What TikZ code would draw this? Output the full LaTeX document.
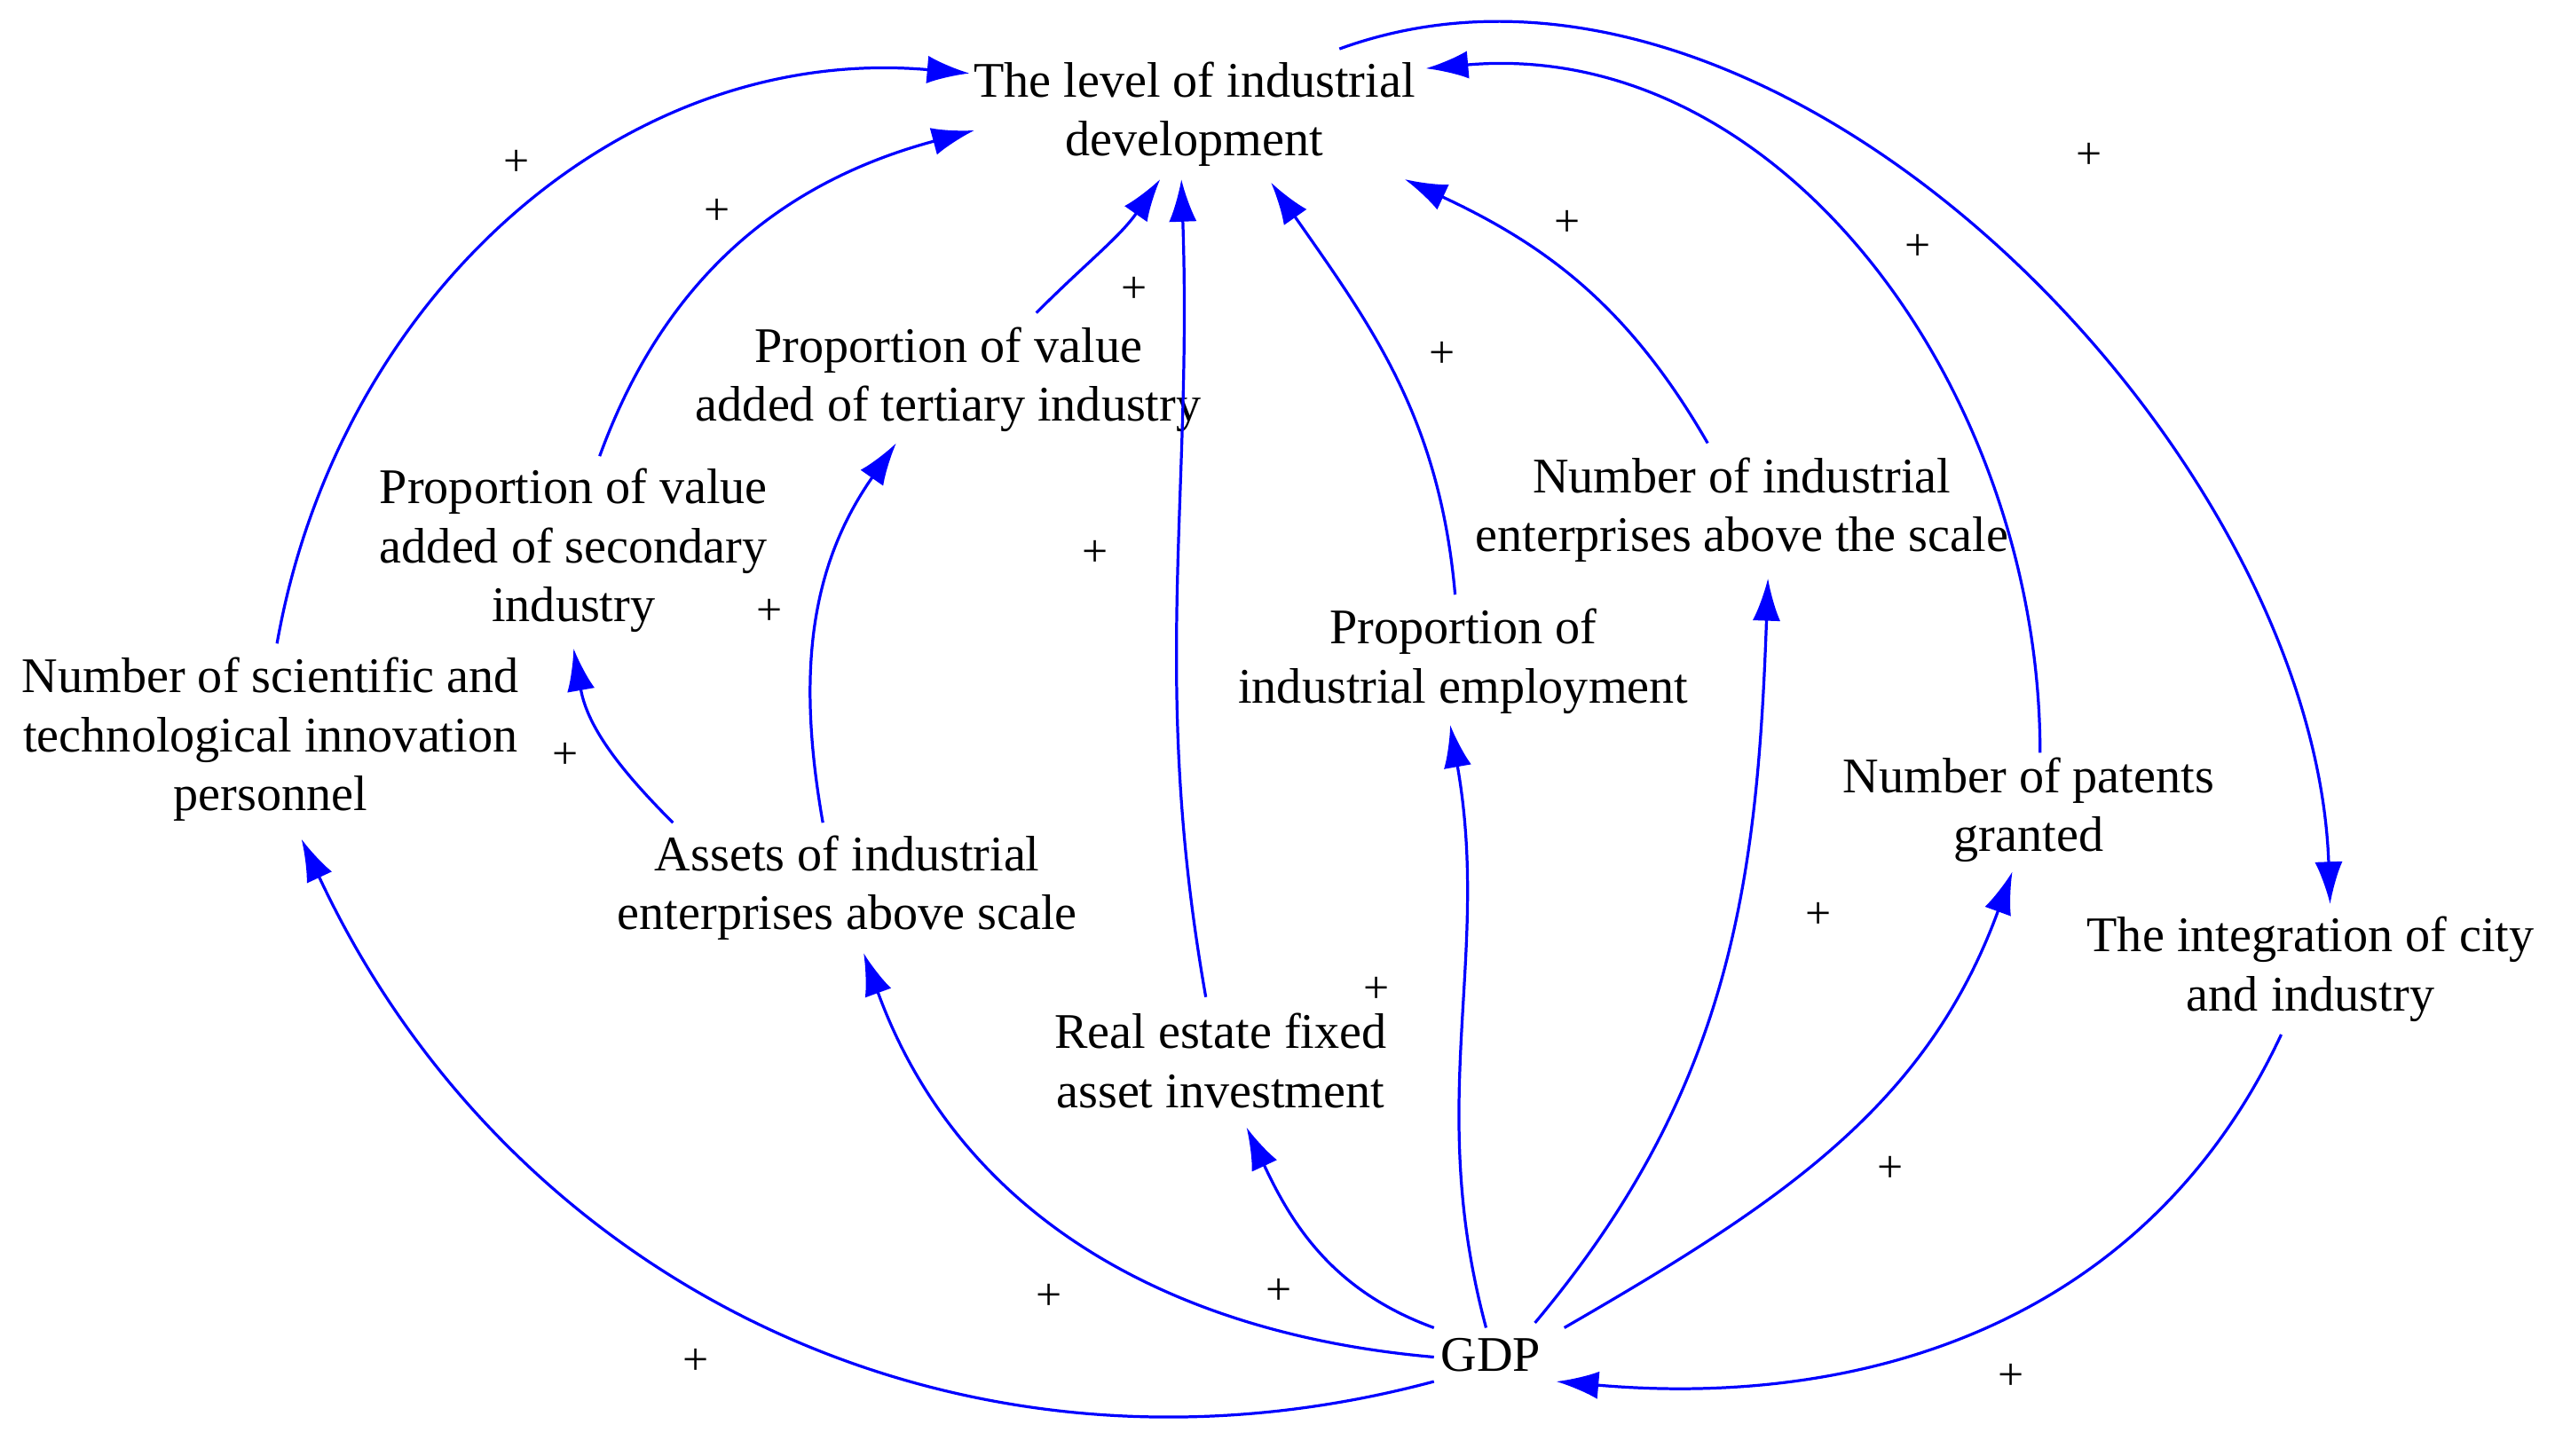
\documentclass[tikz,border=0pt]{standalone}
\usepackage{fontspec}
\setmainfont{Liberation Serif}
\usetikzlibrary{arrows.meta,calc}
\definecolor{lblue}{RGB}{0,0,255}
\tikzset{lbl/.style={align=center,inner sep=0pt,font=\fontsize{8.7}{10.3}\selectfont},
ln/.style={draw=lblue,line width=0.5pt,-{Latex[length=0.26cm,width=0.17cm]}},
pl/.style={font=\fontsize{8}{9}\selectfont}}
\begin{document}
\begin{tikzpicture}[x=0.01cm,y=-0.01cm]
\useasboundingbox (0,0) rectangle (1568,893.7);
\node[lbl] (top) at (733,70) {The level of industrial\\development};
\node[lbl] (tert) at (582,233) {Proportion of value\\added of tertiary industry};
\node[lbl] (sec) at (352,338) {Proportion of value\\added of secondary\\industry};
\node[lbl] (sci) at (166,454) {Number of scientific and\\technological innovation\\personnel};
\node[lbl] (assets) at (520,545) {Assets of industrial\\enterprises above scale};
\node[lbl] (real) at (749,651) {Real estate fixed\\asset investment};
\node[lbl] (emp) at (898,406) {Proportion of\\industrial employment};
\node[lbl] (num) at (1069,313) {Number of industrial\\enterprises above the scale};
\node[lbl] (pat) at (1245,497) {Number of patents\\granted};
\node[lbl] (integ) at (1418,595) {The integration of city\\and industry};
\node[lbl] (gdp) at (915,832) {GDP};
\path[ln] ($(sci)+(4,-59)$) to[out=80,in=175] ($(top)+(-138,-25)$);
\path[ln] ($(sec)+(16,-58)$) to[out=70,in=195] ($(top)+(-135,10)$);
\path[ln] ($(tert)+(54,-41)$) to[out=45,in=235] ($(top)+(-21,40)$);
\path[ln] ($(real)+(-9,-39)$) to[out=100,in=-88] ($(top)+(-8,40)$);
\path[ln] ($(emp)+(-5,-41)$) to[out=95,in=-55] ($(top)+(47,42)$);
\path[ln] ($(num)+(-21,-41)$) to[out=120,in=-25] ($(top)+(129,40)$);
\path[ln] ($(pat)+(7,-35)$) to[out=90,in=5] ($(top)+(142,-28)$);
\path[ln] ($(top)+(89,-40)$) to[out=20,in=92,looseness=0.9] ($(integ)+(12,-40)$);
\path[ln] ($(integ)+(-18,40)$) to[out=-115,in=-5] ($(gdp)+(40,16)$);
\path[ln] ($(gdp)+(45,-17)$) to[out=30,in=-110] ($(pat)+(-10,38)$);
\path[ln] ($(gdp)+(27,-20)$) to[out=50,in=-92] ($(num)+(16,42)$);
\path[ln] ($(gdp)+(-3,-17)$) to[out=105,in=-80] ($(emp)+(-8,39)$);
\path[ln] ($(gdp)+(-35,-17)$) to[out=160,in=-65] ($(real)+(16,41)$);
\path[ln] ($(gdp)+(-35,1)$) to[out=175,in=-70] ($(assets)+(10,40)$);
\path[ln] ($(gdp)+(-35,16)$) to[out=195,in=-65] ($(sci)+(19,61)$);
\path[ln] ($(assets)+(-15,-40)$) to[out=100,in=-125] ($(tert)+(-32,39)$);
\path[ln] ($(assets)+(-107,-40)$) to[out=135,in=-80] ($(sec)+(0,60)$);
\foreach \x/\y [count=\i] in {317/100,440/130,696/178,885/218,962/137,1177/152,1282/96,672/340,472/376,347/464,1116/562,845/608,1160/718,644/796,785/793,427/836,1234/845}
  \node[pl] (p\i) at (\x,\y) {+};
\end{tikzpicture}
\end{document}
